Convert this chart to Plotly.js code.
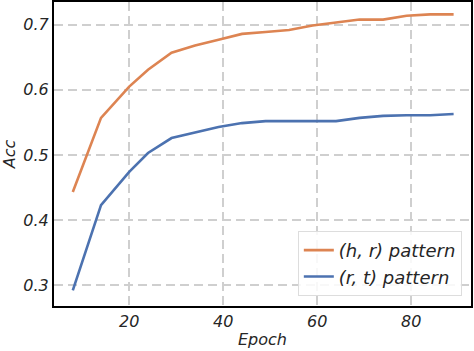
<!DOCTYPE html>
<html>
<head>
<meta charset="utf-8">
<script src="https://cdn.plot.ly/plotly-3.0.1.min.js"></script>
<style>html,body{margin:0;padding:0;background:#fff;}#chart{width:474px;height:351px;}</style>
</head>
<body>
<div id="chart"></div>
<script>
const epochs = [8, 14, 20, 24, 29, 34, 39, 44, 49, 54, 59, 64, 69, 74, 79, 84, 89];
const hrPattern = [0.443, 0.557, 0.605, 0.631, 0.657, 0.668, 0.677, 0.686, 0.689, 0.692, 0.699, 0.704, 0.708, 0.708, 0.714, 0.716, 0.716];
const rtPattern = [0.292, 0.423, 0.474, 0.503, 0.526, 0.535, 0.543, 0.549, 0.552, 0.552, 0.552, 0.552, 0.557, 0.560, 0.561, 0.561, 0.563];
const seriesNames = ['(h, r) pattern', '(r, t) pattern'];
const xTicks = [20, 40, 60, 80];
const yTicks = [0.3, 0.4, 0.5, 0.6, 0.7];

const font = {family: 'DejaVu Sans', style: 'italic', size: 16, color: '#262626'};

const traces = [
  {x: epochs, y: hrPattern, name: seriesNames[0], mode: 'lines',
   line: {color: '#dd8452', width: 2.6}},
  {x: epochs, y: rtPattern, name: seriesNames[1], mode: 'lines',
   line: {color: '#4c72b0', width: 2.6}}
];

const axisCommon = {
  showline: true, mirror: true, linecolor: '#000', linewidth: 2,
  showgrid: true, gridcolor: '#cfcfcf', gridwidth: 1.8, griddash: '9px,5px',
  zeroline: false, ticks: '', tickfont: font
};

const layout = {
  width: 474, height: 351,
  margin: {l: 54, r: 3, t: 2, b: 45},
  paper_bgcolor: '#fff', plot_bgcolor: '#fff',
  showlegend: true,
  xaxis: Object.assign({}, axisCommon, {
    range: [4, 92.7], tickvals: xTicks, ticktext: xTicks.map(String),
    title: {text: 'Epoch', font: font, standoff: 4}
  }),
  yaxis: Object.assign({}, axisCommon, {
    range: [0.268, 0.735], tickvals: yTicks, ticktext: yTicks.map(v => v.toFixed(1)),
    title: {text: 'Acc', font: font, standoff: 6}
  }),
  legend: {
    x: 0.978, y: 0.033, xanchor: 'right', yanchor: 'bottom',
    bgcolor: 'rgba(255,255,255,0.85)', bordercolor: '#dddddd', borderwidth: 1,
    font: {family: 'DejaVu Sans', style: 'italic', size: 18, color: '#262626'},
    tracegroupgap: 0
  }
};

Plotly.newPlot('chart', traces, layout, {displayModeBar: false, staticPlot: true});
</script>
</body>
</html>
